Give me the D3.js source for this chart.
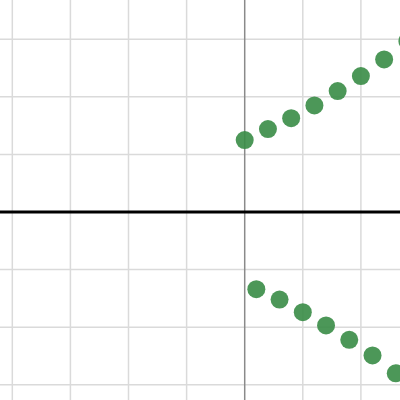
<!DOCTYPE html>
<html>
<head>
<meta charset="utf-8">
<script src="https://cdn.jsdelivr.net/npm/d3@7"></script>
<style>
  body { margin: 0; background: #fff; }
</style>
</head>
<body>
<div id="chart"></div>
<script>
// points (graph units)
var upperX = [0, 0.4, 0.8, 1.2, 1.6, 2.0, 2.4, 2.8];
var upperY = [1.25, 1.44, 1.63, 1.85, 2.10, 2.36, 2.65, 2.97];
var lowerX = [0.2, 0.6, 1.0, 1.4, 1.8, 2.2, 2.6];
var lowerY = [-1.34, -1.52, -1.74, -1.97, -2.22, -2.49, -2.80];
var gridX = [-4, -3, -2, -1, 1, 2, 3];
var gridY = [-3, -2, -1, 1, 2, 3];

var w = 400;
var h = 400;

var svg = d3.select("div#chart")
  .append("svg")
  .attr("width", w)
  .attr("height", h);

var x = d3.scaleLinear().domain([-4.212, 2.673]).range([0, w]);
var y = d3.scaleLinear().domain([-3.264, 3.681]).range([h, 0]);

// grid
svg.selectAll("line.gx")
  .data(gridX)
  .enter()
  .append("line")
  .attr("class", "gx")
  .attr("x1", function(d){ return x(d); })
  .attr("x2", function(d){ return x(d); })
  .attr("y1", 0)
  .attr("y2", h)
  .attr("stroke", "#dadada")
  .attr("stroke-width", 1.5);

svg.selectAll("line.gy")
  .data(gridY)
  .enter()
  .append("line")
  .attr("class", "gy")
  .attr("y1", function(d){ return y(d); })
  .attr("y2", function(d){ return y(d); })
  .attr("x1", 0)
  .attr("x2", w)
  .attr("stroke", "#dadada")
  .attr("stroke-width", 1.5);

// axes
svg.append("line")
  .attr("x1", x(0)).attr("x2", x(0))
  .attr("y1", 0).attr("y2", h)
  .attr("stroke", "#8a8a8a")
  .attr("stroke-width", 1.5);

svg.append("line")
  .attr("x1", 0).attr("x2", w)
  .attr("y1", y(0)).attr("y2", y(0))
  .attr("stroke", "#000")
  .attr("stroke-width", 3);

// points
var pts = upperX.map(function(d, i){ return [d, upperY[i]]; })
  .concat(lowerX.map(function(d, i){ return [d, lowerY[i]]; }));

svg.selectAll("circle")
  .data(pts)
  .enter()
  .append("circle")
  .attr("cx", function(d){ return x(d[0]); })
  .attr("cy", function(d){ return y(d[1]); })
  .attr("r", 9)
  .attr("fill", "#388c46")
  .style("opacity", 0.9);
</script>
</body>
</html>
